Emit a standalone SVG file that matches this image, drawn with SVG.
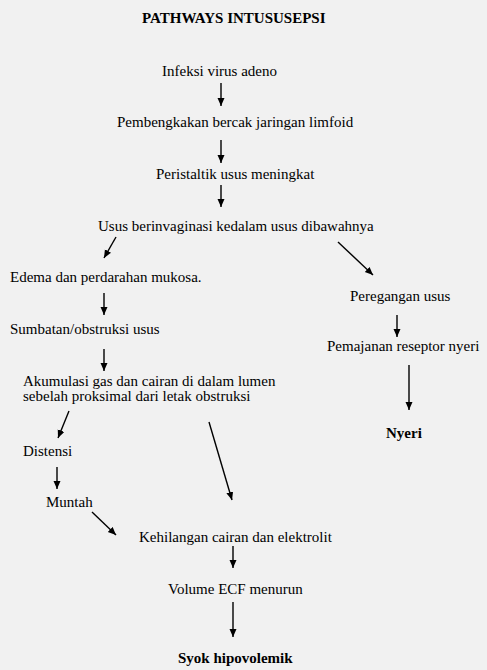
<svg xmlns="http://www.w3.org/2000/svg" width="487" height="670" viewBox="0 0 487 670">
<defs>
<marker id="ah" markerUnits="userSpaceOnUse" markerWidth="9" markerHeight="8" refX="8" refY="3.5" orient="auto">
<path d="M0,0 L8,3.5 L0,7 z" fill="#000"/>
</marker>
<style>
text{font-family:"Liberation Serif","Times New Roman",serif;font-size:15px;fill:#000}
.b{font-weight:bold}
.c line{stroke:#000;stroke-width:1.4;marker-end:url(#ah)}
</style>
</defs>
<rect width="487" height="670" fill="#f1f1f1"/>
<text id="title" class="b" x="142" y="23">PATHWAYS INTUSUSEPSI</text>
<g id="n1"><text x="162" y="76">Infeksi virus adeno</text></g>
<g id="n2"><text x="117" y="127">Pembengkakan bercak jaringan limfoid</text></g>
<g id="n3"><text x="156" y="179">Peristaltik usus meningkat</text></g>
<g id="n4"><text x="98" y="231">Usus berinvaginasi kedalam usus dibawahnya</text></g>
<g id="n5"><text x="10" y="282">Edema dan perdarahan mukosa.</text></g>
<g id="n6"><text x="350" y="301">Peregangan usus</text></g>
<g id="n7"><text x="10" y="334">Sumbatan/obstruksi usus</text></g>
<g id="n8"><text x="327" y="351">Pemajanan reseptor nyeri</text></g>
<g id="n9"><text x="23" y="386">Akumulasi gas dan cairan di dalam lumen</text><text x="23" y="401">sebelah proksimal dari letak obstruksi</text></g>
<g id="n10"><text class="b" x="386" y="438">Nyeri</text></g>
<g id="n11"><text x="23" y="456">Distensi</text></g>
<g id="n12"><text x="46" y="507">Muntah</text></g>
<g id="n13"><text x="139" y="542">Kehilangan cairan dan elektrolit</text></g>
<g id="n14"><text x="168" y="594">Volume ECF menurun</text></g>
<g id="n15"><text class="b" x="178" y="663">Syok hipovolemik</text></g>
<g id="connectors" class="c">
<line x1="221" y1="83" x2="221" y2="106"/>
<line x1="221" y1="140" x2="221" y2="163"/>
<line x1="221" y1="185" x2="221" y2="207"/>
<line x1="116" y1="237" x2="104" y2="258"/>
<line x1="338" y1="242" x2="373" y2="275"/>
<line x1="104" y1="293" x2="104" y2="315"/>
<line x1="397" y1="315" x2="397" y2="337"/>
<line x1="104" y1="349" x2="104" y2="371"/>
<line x1="409" y1="365" x2="409" y2="410"/>
<line x1="69" y1="411" x2="58" y2="438"/>
<line x1="209" y1="422" x2="232" y2="500"/>
<line x1="57" y1="467" x2="57" y2="489"/>
<line x1="92" y1="512" x2="116" y2="535"/>
<line x1="233" y1="546" x2="233" y2="568"/>
<line x1="233" y1="602" x2="233" y2="637"/>
</g>
</svg>
